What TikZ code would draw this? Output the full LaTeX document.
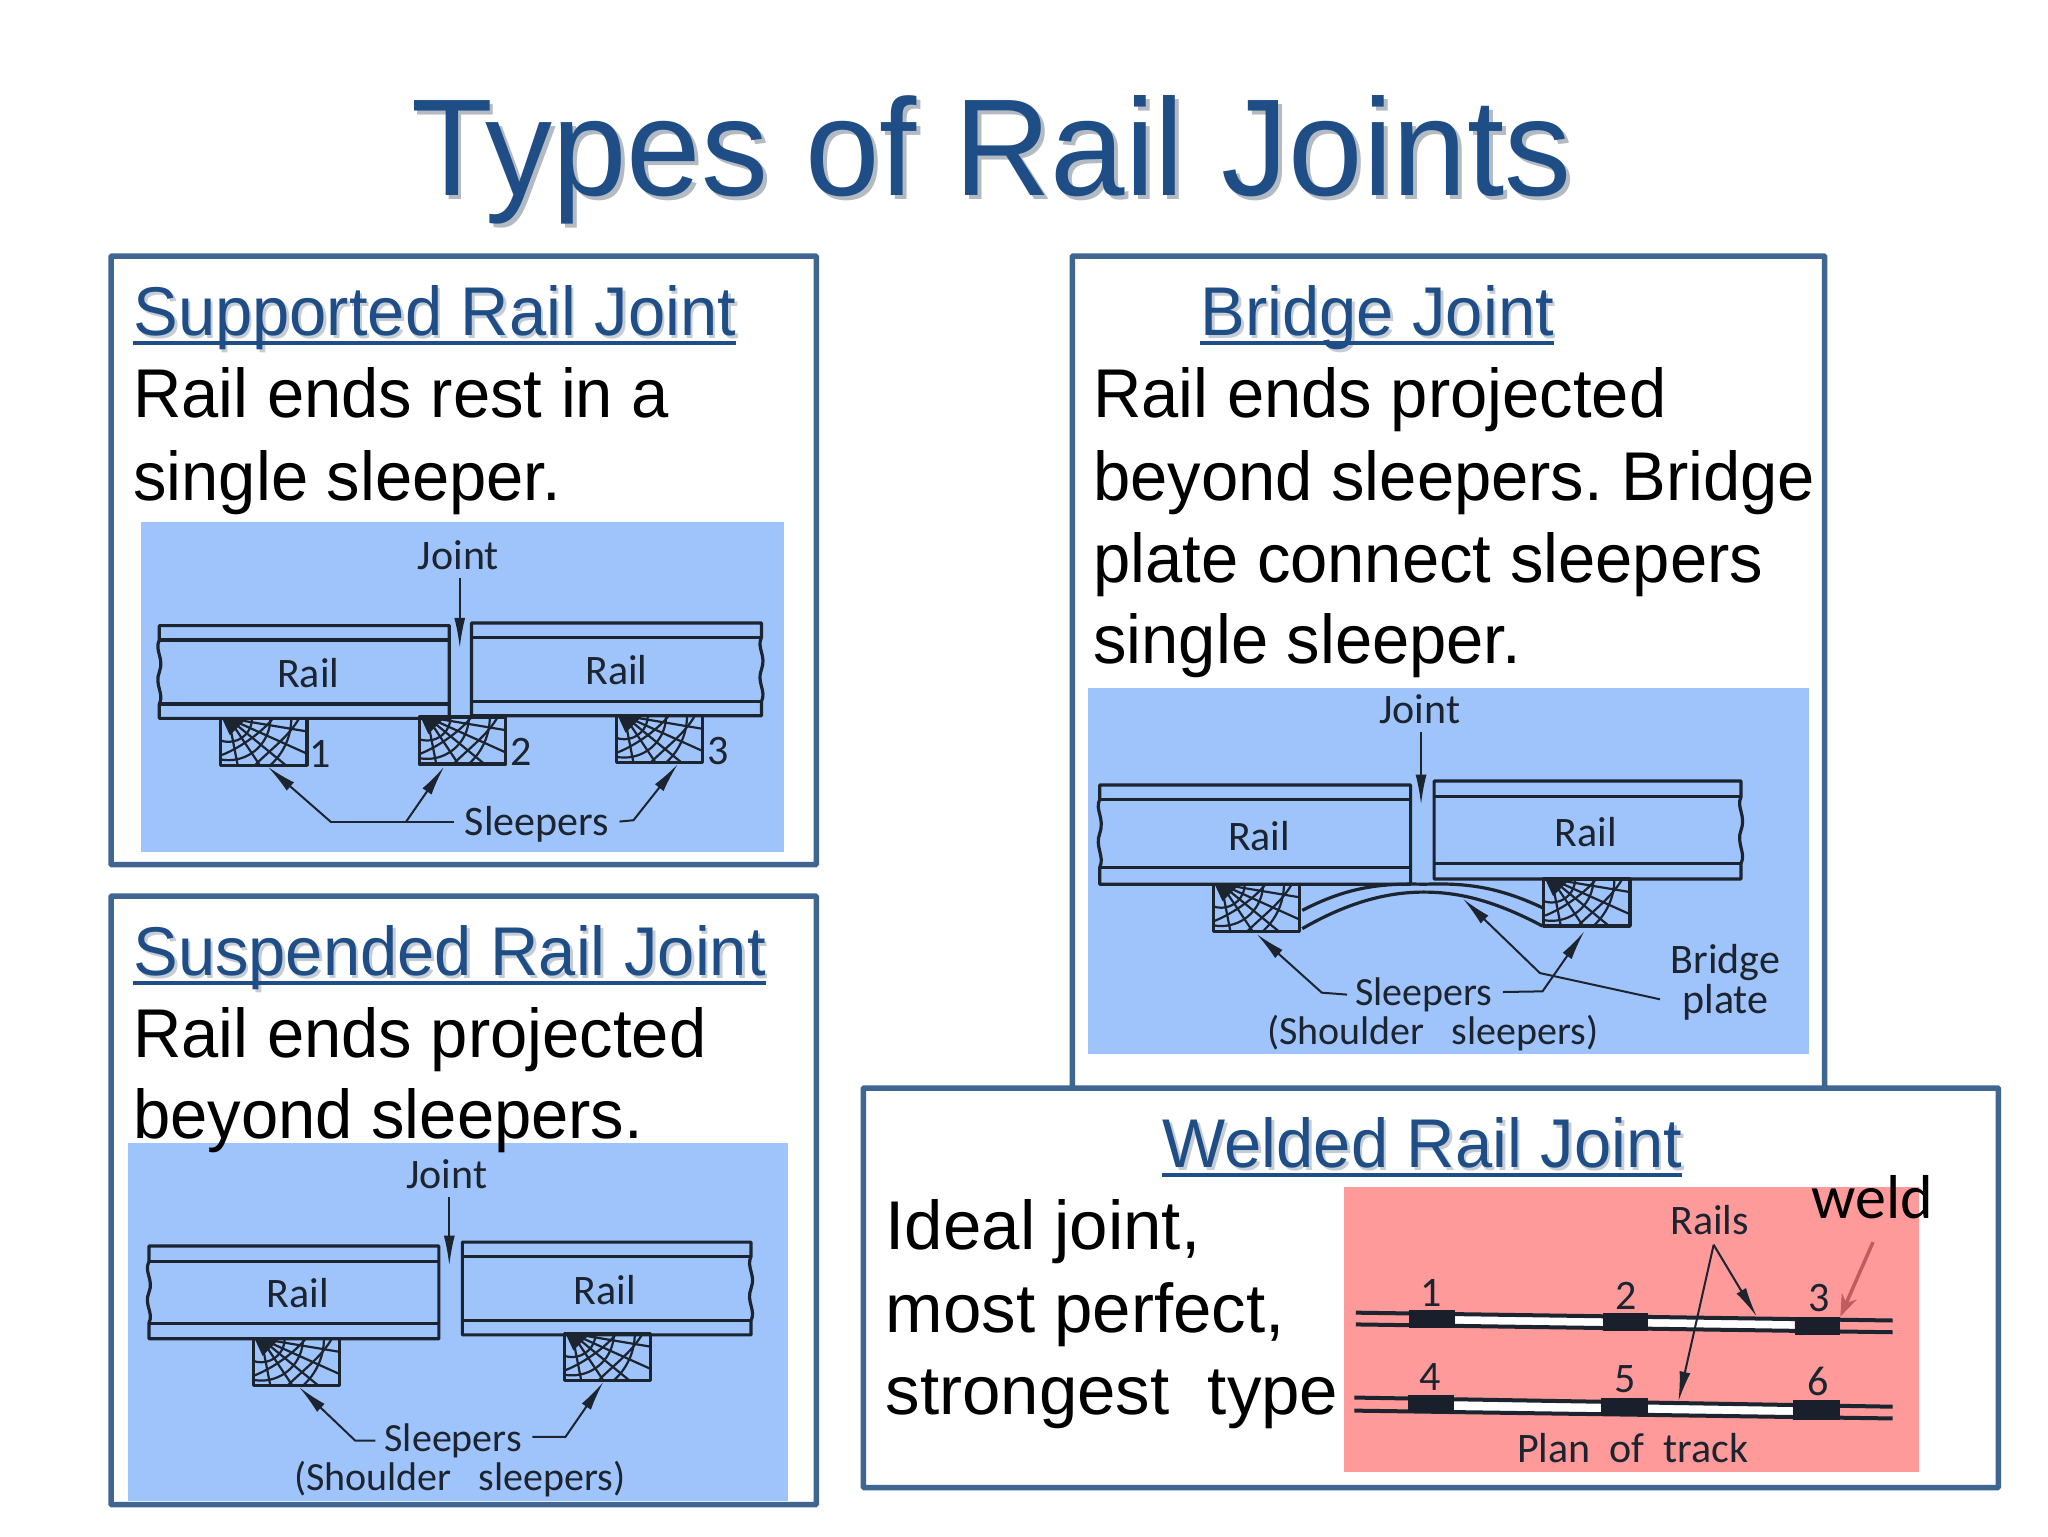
\documentclass[tikz,border=0pt]{standalone}
\usepackage{fontspec}
\setmainfont[FakeStretch=0.97]{Liberation Sans}
\newfontfamily\widerface{Liberation Sans}
\newfontfamily\sketchfont{Carlito}
\usetikzlibrary{arrows.meta}
\frenchspacing

\definecolor{frameblue}{HTML}{3F6592}
\definecolor{headblue}{HTML}{1F4E86}
\definecolor{shadowgrey}{HTML}{B4BAC2}
\definecolor{shadowpale}{HTML}{C6CCD4}
\definecolor{panelblue}{HTML}{9FC3FB}
\definecolor{panelpink}{HTML}{FE9A9A}
\definecolor{inkdark}{HTML}{1C2430}
\definecolor{weldred}{HTML}{C25B5F}

\tikzset{
	frame/.style={draw=frameblue, line width=5.5pt, rounded corners=1pt, fill=white},
	title/.style={inner sep=0pt, anchor=base, text=headblue, font=\fontsize{138}{138}\selectfont},
	heading/.style={inner sep=0pt, anchor=base west, text=headblue, font=\fontsize{69}{83}\selectfont},
	headshade/.style={heading, text=shadowpale},
	body/.style={inner sep=0pt, anchor=base west, text=black, font=\fontsize{69}{83}\selectfont},
	bodywide/.style={body, font=\widerface\fontsize{69}{83}\selectfont},
	weldtext/.style={inner sep=0pt, anchor=base west, text=black, font=\sketchfont\fontsize{62}{62}\selectfont},
	ulined/.style={draw=headblue, line width=4pt},
	sketchlabel/.style={inner sep=0pt, text=inkdark, font=\sketchfont\fontsize{42}{44}\selectfont},
	sketchpair/.style={sketchlabel, font=\sketchfont\fontsize{40}{44}\selectfont},
	railline/.style={draw=inkdark, line width=3.2pt, line join=round},
	trackline/.style={draw=inkdark, line width=4pt},
	hatchline/.style={draw=inkdark, line width=2.2pt},
	leader/.style={draw=inkdark, line width=2pt},
	tipline/.style={draw=inkdark, line width=2pt, -{Latex[length=30pt, width=11pt]}},
	weldblock/.style={fill=inkdark!90!black},
}

\newcommand{\railbar}[6]{
	\draw[railline] (#2,#3) -- (#1,#3) -- (#1,#4)
		.. controls ({#1-4},{#4+8}) and ({#1+4},{#4+14}) .. (#1,{(#4+#5)/2})
		.. controls ({#1-4},{(#4+#5)/2+10}) and ({#1+4},{#5-8}) .. (#1,#5)
		-- (#1,#6) -- (#2,#6) -- cycle;
	\draw[railline] (#1,#4) -- (#2,#4);
	\draw[railline] (#1,#5) -- (#2,#5);
}

\newcommand{\sleeperblock}[2]{
	\begin{scope}[shift={(#1,#2)}]
		\begin{scope}
			\clip (0,0) rectangle (66,36);
			\fill[inkdark] (1,0) -- (20,0) -- (7,13) -- cycle;
			\foreach \tx/\ty in {66/10, 66/27, 50/36, 30/36, 13/36}
				\draw[hatchline] (6,0) -- (\tx,\ty);
			\foreach \rad in {18,32,48}
				\draw[hatchline] (6,0) circle (\rad);
			\draw[hatchline] (60,0) .. controls (52,14) and (38,24) .. (26,36);
			\draw[hatchline] (40,0) .. controls (32,10) and (16,22) .. (1,28);
		\end{scope}
		\draw[railline] (0,0) rectangle (66,36);
	\end{scope}
}

\begin{document}
\begin{tikzpicture}[x=1.3061pt, y=-1.3061pt]
	\useasboundingbox (0,0) rectangle (1568,1176);

	\node[title, text=shadowgrey] (titleshade) at (762,153) {Types of Rail Joints};
	\node[title] (titletext) at (759,150) {Types of Rail Joints};

	\draw[frame] (85,196) rectangle (625,662);
	\draw[frame] (85,686) rectangle (625,1152);
	\draw[frame] (821,196) rectangle (1397,860);
	\draw[frame] (661,833) rectangle (1530,1139);

	\fill[panelblue] (108,400) rectangle (600,652);
	\fill[panelblue] (98,875) rectangle (603,1149);
	\fill[panelblue] (833,527) rectangle (1385,807);
	\fill[panelpink] (1029,909) rectangle (1469,1127);

	\node[headshade] (suppsh) at (104,259) {Supported Rail Joint};
	\node[heading] (supp) at (102,257) {Supported Rail Joint};
	\draw[ulined] ([yshift=-7pt]supp.base west) -- ([yshift=-7pt]supp.base east);
	\node[body] (supp1) at (102,320) {Rail ends rest in a};
	\node[body] (supp2) at (102,383) {single sleeper.};

	\node[headshade] (suspsh) at (104,749) {Suspended Rail Joint};
	\node[heading] (susp) at (102,747) {Suspended Rail Joint};
	\draw[ulined] ([yshift=-7pt]susp.base west) -- ([yshift=-7pt]susp.base east);
	\node[body] (susp1) at (102,810) {Rail ends projected};
	\node[body] (susp2) at (102,872) {beyond sleepers.};

	\node[headshade] (bridsh) at (921,259) {Bridge Joint};
	\node[heading] (brid) at (919,257) {Bridge Joint};
	\draw[ulined] ([yshift=-7pt]brid.base west) -- ([yshift=-7pt]brid.base east);
	\node[body] (brid1) at (837,320) {Rail ends projected};
	\node[body] (brid2) at (837,383) {beyond sleepers. Bridge};
	\node[body] (brid3) at (837,446) {plate connect sleepers};
	\node[body] (brid4) at (837,508) {single sleeper.};

	\node[headshade] (weldsh) at (892,896) {Welded Rail Joint};
	\node[heading] (weld) at (890,894) {Welded Rail Joint};
	\draw[ulined] ([yshift=-7pt]weld.base west) -- ([yshift=-7pt]weld.base east);
	\node[bodywide] (weld1) at (678,957) {Ideal joint,};
	\node[bodywide] (weld2) at (678,1020) {most perfect,};
	\node[bodywide] (weld3) at (678,1083) {strongest\ \ type};
	\node[weldtext] (weldword) at (1387,933) {weld};

	\railbar{122}{344}{479}{490}{539}{550}
	\railbar{583}{361}{477}{488}{537}{548}
	\sleeperblock{169}{550}
	\sleeperblock{321}{549}
	\sleeperblock{472}{548}
	\node[sketchlabel] (jointa) at (351,425) {Joint};
	\node[sketchlabel] (raila) at (236,515) {Rail};
	\node[sketchlabel] (railb) at (472,513) {Rail};
	\node[sketchlabel] (numa) at (245,577) {1};
	\node[sketchlabel] (numb) at (399,576) {2};
	\node[sketchlabel] (numc) at (550,575) {3};
	\node[sketchlabel] (sleepa) at (411,631) {Sleepers};
	\coordinate (elbowa) at (253,629);
	\coordinate (elbowb) at (311,629);
	\draw[tipline] (jointa.south) ++(1,6) -- (352,496);
	\draw[leader] (sleepa.west) ++(-8,-2) -- (elbowa);
	\draw[tipline] (elbowa) -- (205,587);
	\draw[tipline] (elbowb) -- (340,587);
	\draw[tipline] (sleepa.east) ++(8,-2) -- (485,628) -- (519,585);

	\railbar{114}{336}{954}{966}{1013}{1025}
	\railbar{575}{354}{951}{962}{1011}{1022}
	\sleeperblock{194}{1025}
	\sleeperblock{432}{1021}
	\node[sketchlabel] (jointb) at (342,899) {Joint};
	\node[sketchlabel] (railc) at (228,990) {Rail};
	\node[sketchlabel] (raild) at (463,988) {Rail};
	\node[sketchpair] (sleepb) at (347,1103) {Sleepers};
	\node[sketchpair] (shoulb) at (352,1132.5) {(Shoulder\ \ \ sleepers)};
	\draw[tipline] (jointb.south) ++(2,6) -- (344,969);
	\draw[tipline] (sleepb.west) ++(-7,0) -- (272,1103) -- (229,1062);
	\draw[tipline] (sleepb.east) ++(8,-3) -- (433,1100) -- (462,1058);

	\railbar{842}{1080}{601}{612}{664}{677}
	\railbar{1333}{1098}{598}{610}{661}{673}
	\sleeperblock{929}{677}
	\sleeperblock{1182}{673}
	\draw[railline] (997,697) .. controls (1030,680) and (1055,676) .. (1090,677)
		.. controls (1120,676) and (1145,678) .. (1181,695);
	\draw[railline] (997,711) .. controls (1030,692) and (1060,683) .. (1090,683)
		.. controls (1118,683) and (1145,690) .. (1181,709);
	\node[sketchlabel] (jointc) at (1087,543) {Joint};
	\node[sketchlabel] (raile) at (964,640) {Rail};
	\node[sketchlabel] (railf) at (1214,637) {Rail};
	\node[sketchpair] (sleepc) at (1090,761.5) {Sleepers};
	\node[sketchpair] (shoulc) at (1097,791) {(Shoulder\ \ \ sleepers)};
	\node[sketchlabel] (bridgea) at (1321,737) {Bridge};
	\node[sketchlabel] (bridgeb) at (1321,767) {plate};
	\draw[tipline] (jointc.south) ++(1,6) -- (1088,616);
	\draw[tipline] (sleepc.west) ++(-6,0) -- (1012,760) -- (962,715);
	\draw[tipline] (sleepc.east) ++(8,-2) -- (1181,759) -- (1213,713);
	\draw[tipline] (bridgea.south west) ++(-8,14) -- (1179,745) -- (1120,688);

	\fill[white] (1114,1005) -- (1374,1009) -- (1374,1019) -- (1114,1015) -- cycle;
	\fill[white] (1113,1071) -- (1373,1075) -- (1373,1084) -- (1113,1081) -- cycle;
	\draw[trackline] (1038,1005) -- (1449,1011);
	\draw[trackline] (1038,1014) -- (1449,1020);
	\draw[trackline] (1037,1070) -- (1449,1077);
	\draw[trackline] (1037,1080) -- (1449,1086);
	\fill[weldblock] (1079,1003) rectangle (1114,1017);
	\fill[weldblock] (1227,1005) rectangle (1262,1019);
	\fill[weldblock] (1374,1008) rectangle (1409,1022);
	\fill[weldblock] (1078,1068) rectangle (1113,1082);
	\fill[weldblock] (1226,1070) rectangle (1262,1084);
	\fill[weldblock] (1373,1072) rectangle (1409,1087);
	\node[sketchlabel] (nump) at (1096,990) {1};
	\node[sketchlabel] (numq) at (1245,992) {2};
	\node[sketchlabel] (numr) at (1393,994) {3};
	\node[sketchlabel] (nums) at (1095,1054) {4};
	\node[sketchlabel] (numt) at (1244,1056) {5};
	\node[sketchlabel] (numu) at (1392,1058) {6};
	\node[sketchlabel] (railsw) at (1309,934) {Rails};
	\node[sketchlabel] (plan) at (1250,1109) {Plan\ \ of\ \ track};
	\coordinate (apex) at (1312,953);
	\draw[tipline] (apex) -- (1345,1008);
	\draw[tipline] (apex) -- (1285,1073);
	\coordinate (weldfoot) at (1434,951);
	\draw[draw=weldred, line width=3.5pt, -{Stealth[length=22pt, width=16pt]}] (weldfoot) -- (1409,1008);
\end{tikzpicture}
\end{document}
